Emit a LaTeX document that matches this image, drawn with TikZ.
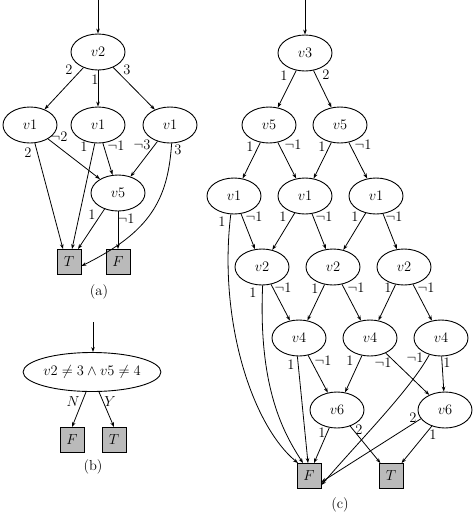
\RequirePackage{fix-cm}
\documentclass[tikz,border=0pt]{standalone}
\usetikzlibrary{shapes.geometric,arrows.meta}
\begin{document}
\begin{tikzpicture}[x=1pt,y=-1pt,
  every node/.style={font=\fontsize{14.5}{17}\selectfont},
  var/.style={ellipse,draw,line width=0.9pt,minimum width=54pt,minimum height=36pt,inner sep=0pt},
  cond/.style={ellipse,draw,line width=0.9pt,minimum width=116pt,minimum height=39pt,inner sep=0pt},
  term/.style={rectangle,draw,line width=0.9pt,fill=black!27,minimum width=24pt,minimum height=25pt,inner sep=0pt},
  lbl/.style={inner sep=0pt},
  arr/.style={draw,line width=0.8pt,-{Stealth[length=5pt,width=3.6pt]}}]
\useasboundingbox (0,0) rectangle (474,512);
% ---------- (a)
\coordinate (atop) at (98,0);
\node[var] (v2) at (98,52) {$v2$};
\node[var] (a1l) at (30,125) {$v1$};
\node[var] (a1m) at (98,125) {$v1$};
\node[var] (a1r) at (170,125) {$v1$};
\node[var] (a5) at (118,193) {$v5$};
\node[term] (aT) at (69,262) {$T$};
\node[term] (aF) at (118,262) {$F$};
\node[lbl] (acap) at (99,292) {(a)};
\draw[arr] (atop) -- (v2);
\draw[arr] (v2) -- (a1l);
\draw[arr] (v2) -- (a1m);
\draw[arr] (v2) -- (a1r);
\draw[arr] (a1l.-75) -- ([xshift=-6pt]aT.north);
\draw[arr] (a1l) -- (a5);
\draw[arr] (a1m.-100) -- ([xshift=3pt]aT.north);
\draw[arr] (a1m.-75) -- (a5);
\draw[arr] (a1r) -- (a5);
\draw[arr] (a1r.-85) .. controls (168,200) and (150,232) .. ([yshift=-4pt]aT.east);
\draw[arr] (a5.-130) -- ([xshift=9pt]aT.north);
\draw[arr] (a5.south) -- (aF.north);
\node[lbl] (la1) at (69,70) {$2$};
\node[lbl] (la2) at (95,80) {$1$};
\node[lbl] (la3) at (127,70) {$3$};
\node[lbl] (la4) at (59,137) {$\neg2$};
\node[lbl] (la5) at (28,153) {$2$};
\node[lbl] (la6) at (84,147) {$1$};
\node[lbl] (la7) at (116,146) {$\neg1$};
\node[lbl] (la8) at (142,145) {$\neg3$};
\node[lbl] (la9) at (178,150) {$3$};
\node[lbl] (la10) at (92,215) {$1$};
\node[lbl] (la11) at (126,219) {$\neg1$};
% ---------- (b)
\coordinate (btop) at (93,322);
\node[cond] (bc) at (92,372) {$v2\neq3\wedge v5\neq4$};
\node[term] (bF) at (72,440) {$F$};
\node[term] (bT) at (114,440) {$T$};
\node[lbl] (bcap) at (93,467) {(b)};
\draw[arr] (btop) -- ([xshift=1pt]bc.north);
\draw[arr] ([xshift=-6pt]bc.south) -- (bF.north);
\draw[arr] ([xshift=7pt]bc.south) -- (bT.north);
\node[lbl] (lN) at (73,402) {$N$};
\node[lbl] (lY) at (110,402) {$Y$};
% ---------- (c)
\coordinate (ctop) at (305,0);
\node[var] (v3) at (305,53) {$v3$};
\node[var] (c5a) at (269,125) {$v5$};
\node[var] (c5b) at (340,125) {$v5$};
\node[var] (c1a) at (234,196) {$v1$};
\node[var] (c1b) at (305,196) {$v1$};
\node[var] (c1c) at (376,196) {$v1$};
\node[var] (c2a) at (262,267) {$v2$};
\node[var] (c2b) at (333,267) {$v2$};
\node[var] (c2c) at (404,267) {$v2$};
\node[var] (c4a) at (299,338) {$v4$};
\node[var] (c4b) at (370,338) {$v4$};
\node[var] (c4c) at (441,338) {$v4$};
\node[var] (c6a) at (337,410) {$v6$};
\node[var] (c6b) at (445,410) {$v6$};
\node[term] (cF) at (309,476) {$F$};
\node[term] (cT) at (391,476) {$T$};
\node[lbl] (ccap) at (340,505) {(c)};
\draw[arr] (ctop) -- (v3);
\draw[arr] (v3) -- (c5a);
\draw[arr] (v3) -- (c5b);
\draw[arr] (c5a) -- (c1a);
\draw[arr] (c5a) -- (c1b);
\draw[arr] (c5b) -- (c1b);
\draw[arr] (c5b) -- (c1c);
\draw[arr] (c1a.-100) .. controls (218,320) and (252,425) .. ([xshift=-11pt]cF.north);
\draw[arr] (c1a) -- (c2a);
\draw[arr] (c1b) -- (c2a);
\draw[arr] (c1b) -- (c2b);
\draw[arr] (c1c) -- (c2b);
\draw[arr] (c1c) -- (c2c);
\draw[arr] (c2a.-88) .. controls (258,390) and (285,435) .. ([xshift=-6pt]cF.north);
\draw[arr] (c2a) -- (c4a);
\draw[arr] (c2b) -- (c4a);
\draw[arr] (c2b) -- (c4b);
\draw[arr] (c2c) -- (c4b);
\draw[arr] (c2c) -- (c4c);
\draw[arr] (c4a.-95) -- ([xshift=-1pt]cF.north);
\draw[arr] (c4a) -- (c6a);
\draw[arr] (c4b) -- (c6a);
\draw[arr] (c4b) -- (c6b);
\draw[arr] (c4c.-125) .. controls (410,390) and (360,440) .. ([yshift=-9pt]cF.east);
\draw[arr] (c4c.-88) -- (c6b);
\draw[arr] (c6a) -- ([xshift=5pt]cF.north);
\draw[arr] (c6a) -- (cT);
\draw[arr] (c6b.-160) -- ([yshift=-6pt]cF.east);
\draw[arr] (c6b) -- (cT);
\node[lbl] (lc1) at (284,76) {$1$};
\node[lbl] (lc2) at (326,75) {$2$};
\node[lbl] (lc3) at (250,147) {$1$};
\node[lbl] (lc4) at (293,145) {$\neg1$};
\node[lbl] (lc5) at (322,147) {$1$};
\node[lbl] (lc6) at (363,145) {$\neg1$};
\node[lbl] (lc7) at (222,222) {$1$};
\node[lbl] (lc8) at (254,217) {$\neg1$};
\node[lbl] (lc9) at (283,217) {$1$};
\node[lbl] (lc10) at (324,217) {$\neg1$};
\node[lbl] (lc11) at (355,217) {$1$};
\node[lbl] (lc12) at (394,217) {$\neg1$};
\node[lbl] (lc13) at (253,293) {$1$};
\node[lbl] (lc14) at (283,288) {$\neg1$};
\node[lbl] (lc15) at (315,289) {$1$};
\node[lbl] (lc16) at (356,288) {$\neg1$};
\node[lbl] (lc17) at (388,288) {$1$};
\node[lbl] (lc18) at (426,288) {$\neg1$};
\node[lbl] (lc19) at (291,365) {$1$};
\node[lbl] (lc20) at (323,361) {$\neg1$};
\node[lbl] (lc21) at (350,361) {$1$};
\node[lbl] (lc22) at (383,363) {$\neg1$};
\node[lbl] (lc23) at (415,358) {$\neg1$};
\node[lbl] (lc24) at (447,363) {$1$};
\node[lbl] (lc25) at (322,433) {$1$};
\node[lbl] (lc26) at (359,430) {$2$};
\node[lbl] (lc27) at (413,418) {$2$};
\node[lbl] (lc28) at (433,435) {$1$};
\end{tikzpicture}
\end{document}
